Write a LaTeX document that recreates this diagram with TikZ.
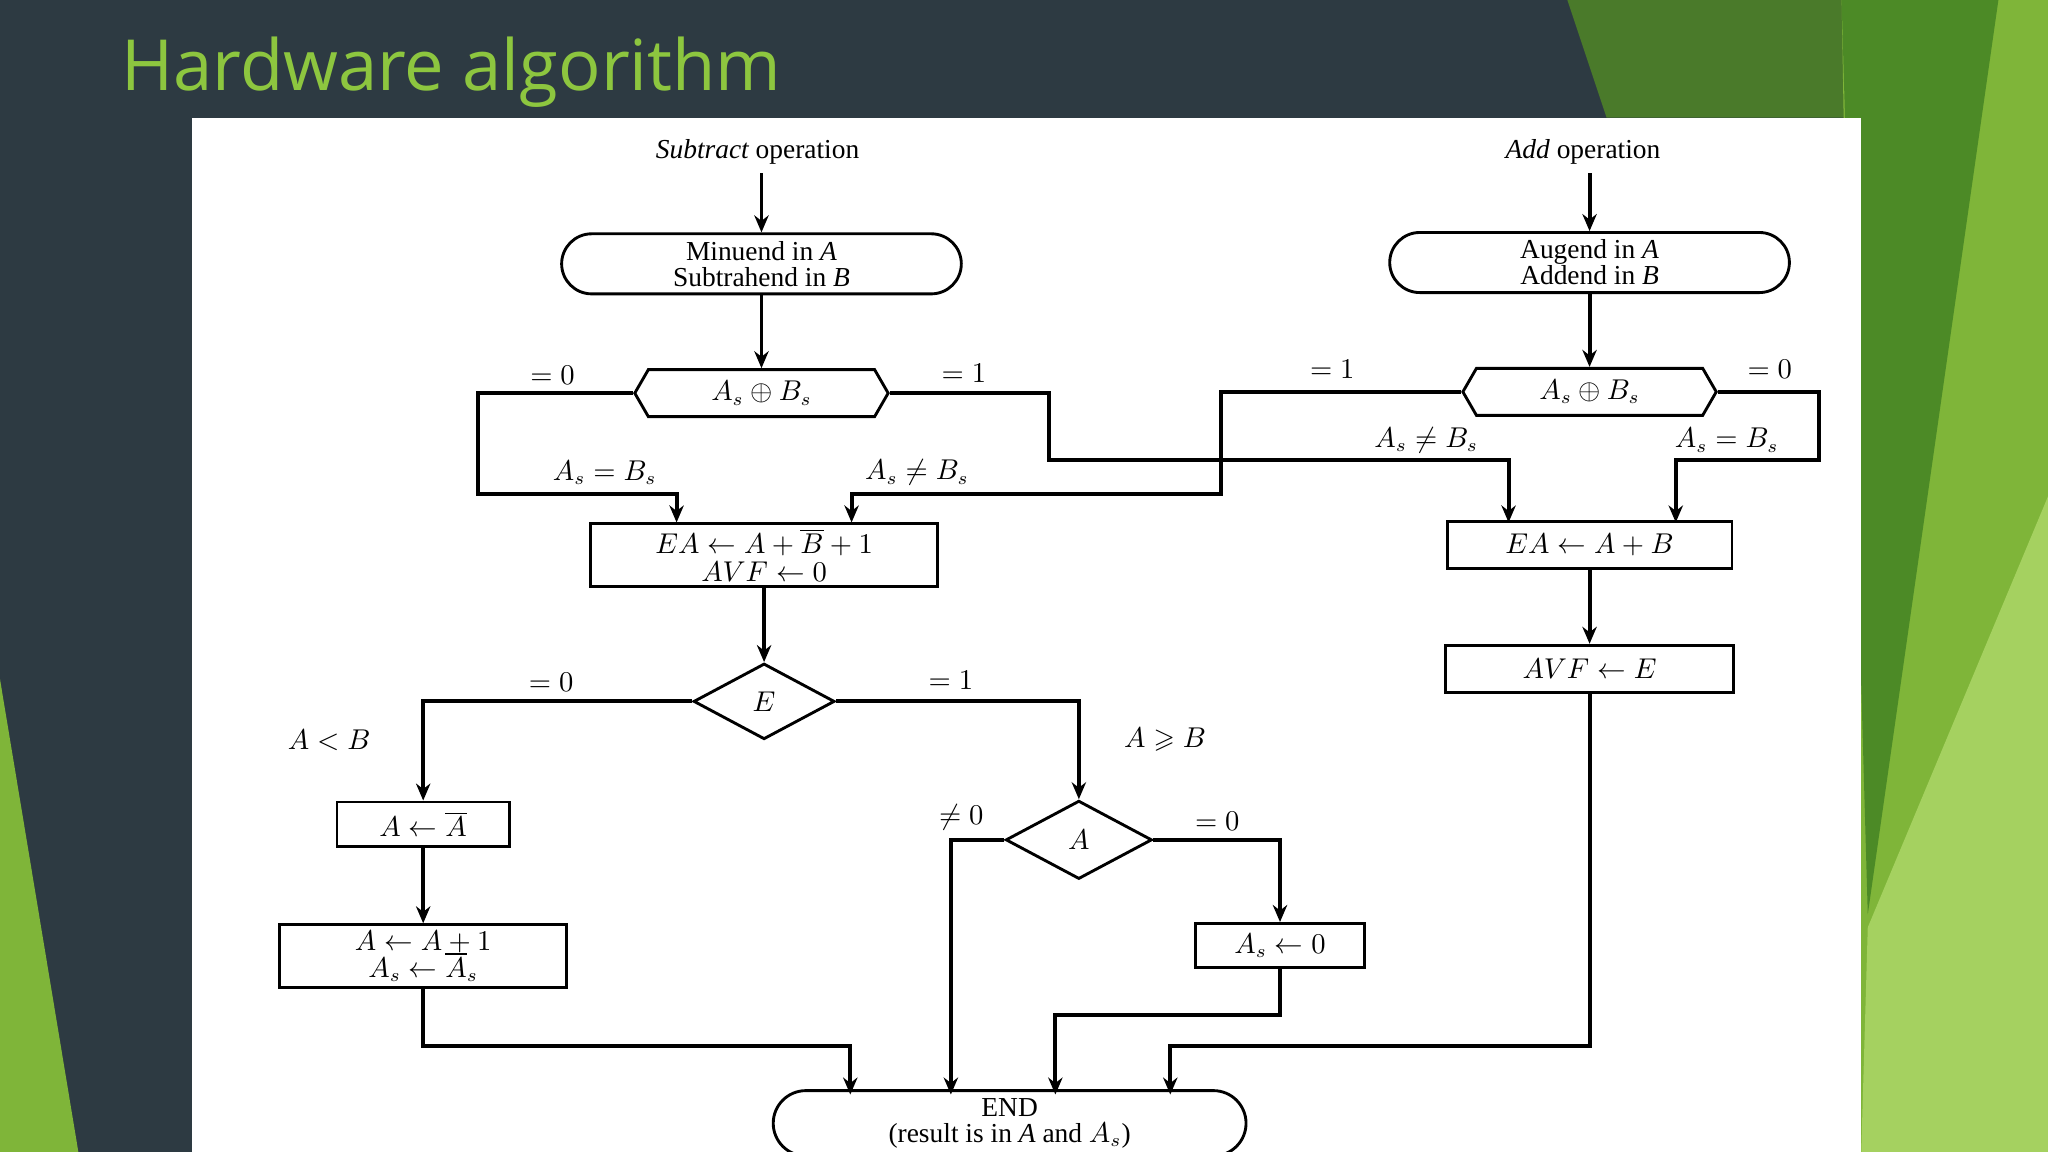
\documentclass[tikz,border=0pt]{standalone}
\usepackage{amssymb}
\usepackage{fontspec}
\setmainfont{Liberation Serif}
\newfontfamily\titlefont{Open Sans}
\usetikzlibrary{shapes.geometric,shapes.misc,shapes.symbols,arrows.meta}
\begin{document}
\begin{tikzpicture}[x=0.5pt,y=-0.5pt,
  ar/.style={line width=1.5pt,-{Stealth[length=6.5pt,width=5.5pt]}},
  bx/.style={draw,line width=1.1pt,inner sep=1pt,align=center,font=\fontsize{10.5}{10.5}\selectfont\itshape},
  rbox/.style={draw,rounded rectangle,line width=1.1pt,align=center,inner sep=1pt,font=\fontsize{10.5}{10}\selectfont},
  hexa/.style={draw,shape=signal,signal to=west and east,signal pointer angle=120,line width=1.1pt,minimum width=97pt,minimum height=18pt,inner sep=1pt,font=\fontsize{10.5}{10.5}\selectfont},
  dia/.style={draw,diamond,aspect=1.8,line width=1.1pt,inner sep=0pt,font=\fontsize{10.5}{10.5}\selectfont},
  lb/.style={font=\fontsize{10.5}{10.5}\selectfont\itshape}]
\useasboundingbox (0,0) rectangle (1568,882);
\fill[fill={rgb,255:red,45;green,58;blue,66}] (0,0) rectangle (1568,882);
\fill[fill={rgb,255:red,74;green,122;blue,42}] (1200,0)--(1420,0)--(1425,90)--(1230,90)--cycle;
\fill[fill={rgb,255:red,127;green,181;blue,57}] (1410,0)--(1568,0)--(1568,882)--(1425,882)--cycle;
\fill[fill={rgb,255:red,76;green,138;blue,38}] (1410,0)--(1530,0)--(1430,700)--cycle;
\fill[fill={rgb,255:red,165;green,209;blue,96}] (1430,710)--(1568,380)--(1568,882)--(1425,882)--cycle;
\fill[fill={rgb,255:red,127;green,181;blue,57}] (0,520)--(60,882)--(0,882)--cycle;
\fill[white] (147,90) rectangle (1425,882);
\node[anchor=west,text={rgb,255:red,141;green,198;blue,63},font=\titlefont\fontsize{27}{30}\selectfont] (title) at (86,55) {Hardware algorithm};

\node[lb] (sub) at (580,116) {Subtract \upshape operation};
\node[lb] (add) at (1212,116) {Add \upshape operation};
\node[rbox,minimum width=155pt,minimum height=23pt] (min) at (583,202) {Minuend in \textit{A}\\Subtrahend in \textit{B}};
\node[rbox,minimum width=155pt,minimum height=23pt] (aug) at (1217,201) {Augend in \textit{A}\\Addend in \textit{B}};
\node[hexa] (hl) at (583,301) {$A_s\oplus B_s$};
\node[hexa] (hr) at (1217,300) {$A_s\oplus B_s$};
\node[bx,minimum width=133pt,minimum height=24pt] (bl) at (585,425) {$EA\leftarrow A+\overline{B}+1$\\$AVF\leftarrow 0$};
\node[bx,minimum width=109pt,minimum height=18pt] (br) at (1217,417) {$EA\leftarrow A+B$};
\node[bx,minimum width=110pt,minimum height=18pt] (avf) at (1217,512) {$AVF\leftarrow E$};
\node[dia,minimum width=54pt,minimum height=29pt] (de) at (585,537) {$E$};
\node[bx,minimum width=66pt,minimum height=17pt] (ab) at (324,631) {$A\leftarrow\overline{A}$};
\node[bx,minimum width=110pt,minimum height=24pt] (ai) at (324,732) {$A\leftarrow A+1$\\$A_s\leftarrow\overline{A}_s$};
\node[dia,minimum width=56pt,minimum height=30pt] (da) at (826,643) {$A$};
\node[bx,minimum width=65pt,minimum height=17pt] (as) at (980,724) {$A_s\leftarrow 0$};
\node[rbox,minimum width=183pt,minimum height=25pt] (end) at (773,860) {END\\(result is in \textit{A} and $A_s$)};

\draw[ar] (sub.south -| min.north) -- (min.north);
\draw[ar] (add.south -| aug.north) -- (aug.north);
\draw[ar] (min.south) -- (hl.north);
\draw[ar] (aug.south) -- (hr.north);
\draw[ar] (hl.west) -| (366,378) -| (518,400);
\draw[ar] (hl.east) -| (803,352) -| (1155,400);
\draw[ar] (hr.west) -| (935,378) -| (652,400);
\draw[ar] (hr.east) -| (1393,352) -| (1283,400);
\draw[ar] (bl.south) -- (de.north);
\draw[ar] (br.south) -- (avf.north);
\draw[ar] (de.west) -| (ab.north);
\draw[ar] (de.east) -| (da.north);
\draw[ar] (ab.south) -- (ai.north);
\draw[ar] (da.west) -| (728,838);
\draw[ar] (da.east) -| (as.north);
\draw[ar] (as.south) |- (808,777) -- (808,838);
\draw[ar] (ai.south) |- (651,801) -- (651,838);
\draw[ar] (avf.south) |- (896,801) -- (896,838);

\node[lb] (l1) at (423,287) {$=0$};
\node[lb] (l2) at (738,286) {$=1$};
\node[lb] (l3) at (463,362) {$A_s=B_s$};
\node[lb] (l4) at (702,362) {$A_s\neq B_s$};
\node[lb] (l5) at (1020,283) {$=1$};
\node[lb] (l6) at (1355,283) {$=0$};
\node[lb] (l7) at (1092,337) {$A_s\neq B_s$};
\node[lb] (l8) at (1322,337) {$A_s=B_s$};
\node[lb] (l9) at (422,522) {$=0$};
\node[lb] (l10) at (728,521) {$=1$};
\node[lb] (l11) at (252,567) {$A<B$};
\node[lb] (l12) at (892,566) {$A\geqslant B$};
\node[lb] (l13) at (736,626) {$\neq0$};
\node[lb] (l14) at (932,629) {$=0$};
\end{tikzpicture}
\end{document}
